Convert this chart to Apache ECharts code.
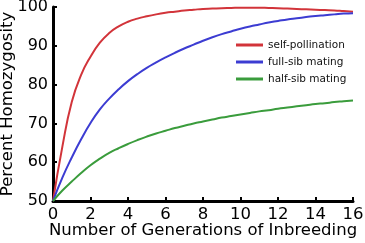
<!DOCTYPE html>
<html>
<head>
<meta charset="utf-8">
<script src="https://cdn.jsdelivr.net/npm/echarts@6/dist/echarts.min.js"></script>
<style>
  html, body { margin: 0; padding: 0; background: #fff; }
  #chart { width: 365px; height: 243px; }
</style>
</head>
<body>
<div id="chart"></div>
<script>
// generations of inbreeding (x) and percent homozygosity (y)
var generations = [0, 0.5, 1, 1.5, 2, 2.5, 3, 3.5, 4, 4.5, 5, 5.5, 6, 6.5, 7, 7.5, 8,
  8.5, 9, 9.5, 10, 10.5, 11, 11.5, 12, 12.5, 13, 13.5, 14, 14.5, 15, 15.5, 16];
var selfPollination = [50, 64, 75.5, 82.5, 87.2, 90.8, 93.3, 95.0, 96.2, 97.0, 97.6, 98.1, 98.5, 98.8, 99.1, 99.3, 99.5,
  99.6, 99.7, 99.75, 99.8, 99.8, 99.8, 99.75, 99.7, 99.6, 99.5, 99.4, 99.3, 99.2, 99.1, 98.95, 98.8];
var fullSib = [50, 56.0, 61.2, 65.9, 70.1, 73.6, 76.4, 78.8, 80.9, 82.7, 84.3, 85.7, 87.0, 88.2, 89.3, 90.3, 91.3,
  92.2, 93.0, 93.7, 94.4, 95.0, 95.5, 96.0, 96.4, 96.8, 97.1, 97.4, 97.7, 97.9, 98.1, 98.3, 98.4];
var halfSib = [50, 52.7, 55.0, 57.2, 59.2, 60.9, 62.4, 63.6, 64.7, 65.7, 66.6, 67.4, 68.1, 68.8, 69.4, 70.0, 70.5,
  71.0, 71.5, 71.9, 72.3, 72.7, 73.1, 73.4, 73.8, 74.1, 74.4, 74.7, 75.0, 75.2, 75.5, 75.7, 75.9];
var seriesNames = ['self-pollination', 'full-sib mating', 'half-sib mating'];
var seriesColors = ['#d2343a', '#3c3cd2', '#3a9c3c'];

function pairs(ys) {
  return generations.map(function (g, i) { return [g, ys[i]]; });
}

var chart = echarts.init(document.getElementById('chart'), null, { renderer: 'canvas' });
var font = 'DejaVu Sans';

chart.setOption({
  animation: false,
  grid: { left: 53, right: 12, top: 7, bottom: 42, outerBoundsMode: 'none', containLabel: false },
  legend: {
    orient: 'vertical',
    left: 236,
    top: 38,
    padding: 0,
    icon: 'rect',
    itemWidth: 27,
    itemHeight: 3,
    itemGap: 3,
    textStyle: { fontFamily: font, fontSize: 10.5, color: '#111', lineHeight: 14 },
    data: seriesNames
  },
  xAxis: {
    type: 'value',
    min: 0,
    max: 16,
    interval: 2,
    name: 'Number of Generations of Inbreeding',
    nameLocation: 'middle',
    nameGap: 21,
    nameMoveOverlap: false,
    nameTextStyle: { fontFamily: font, fontSize: 16.5, color: '#000' },
    axisLine: { lineStyle: { color: '#000', width: 3 } },
    axisTick: { inside: true, length: 4, lineStyle: { color: '#000', width: 2 } },
    axisLabel: { fontFamily: font, fontSize: 16.5, color: '#000', margin: 5 },
    splitLine: { show: false }
  },
  yAxis: {
    type: 'value',
    min: 50,
    max: 100,
    interval: 10,
    name: 'Percent Homozygosity',
    nameLocation: 'middle',
    nameGap: 37,
    nameMoveOverlap: false,
    nameTextStyle: { fontFamily: font, fontSize: 16.5, color: '#000' },
    axisLine: { show: true, lineStyle: { color: '#000', width: 3 } },
    axisTick: { show: true, inside: true, length: 4, lineStyle: { color: '#000', width: 2 } },
    axisLabel: { fontFamily: font, fontSize: 16, color: '#000', margin: 5 },
    splitLine: { show: false }
  },
  series: [selfPollination, fullSib, halfSib].map(function (ys, i) {
    return {
      name: seriesNames[i],
      type: 'line',
      smooth: true,
      showSymbol: false,
      color: seriesColors[i],
      lineStyle: { width: 2, color: seriesColors[i] },
      data: pairs(ys)
    };
  })
});
</script>
</body>
</html>
